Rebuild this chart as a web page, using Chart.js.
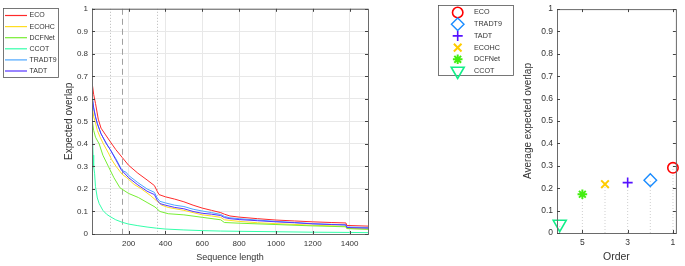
<!DOCTYPE html>
<html>
<head>
<meta charset="utf-8">
<script src="https://cdn.jsdelivr.net/npm/chart.js@4/dist/chart.umd.min.js"></script>
<style>
  html, body { margin: 0; padding: 0; background: #fff; }
  .box { position: absolute; top: 0; }
</style>
</head>
<body>
<div class="box" style="left:0"><canvas id="curveChart" width="380" height="266"></canvas></div>
<div class="box" style="left:430px"><canvas id="rankChart" width="255" height="266"></canvas></div>
<script>
// ---- expected overlap curves (sequence length, overlap) ----
const trackers = ['ECO', 'ECOHC', 'DCFNet', 'CCOT', 'TRADT9', 'TADT'];

const ecoCurve = [[1,1],[2,0.70],[5,0.66],[10,0.62],[20,0.58],[35,0.51],[50,0.47],[75,0.44],[100,0.41],[130,0.375],[165,0.34],[200,0.305],[250,0.27],[300,0.24],[340,0.215],[355,0.19],[365,0.175],[400,0.165],[450,0.155],[500,0.143],[550,0.128],[600,0.115],[650,0.105],[700,0.095],[720,0.088],[750,0.08],[800,0.075],[900,0.068],[1000,0.062],[1100,0.058],[1200,0.054],[1300,0.051],[1380,0.049],[1385,0.038],[1500,0.035]];
const ecohcCurve = [[1,1],[2,0.62],[5,0.56],[10,0.52],[18,0.5],[30,0.46],[45,0.43],[63,0.4],[90,0.36],[108,0.33],[132,0.3],[165,0.265],[190,0.25],[230,0.22],[270,0.2],[320,0.17],[352,0.147],[380,0.128],[415,0.118],[500,0.105],[600,0.085],[650,0.08],[700,0.074],[720,0.063],[800,0.056],[900,0.05],[1000,0.046],[1200,0.039],[1380,0.034],[1385,0.025],[1500,0.022]];
const dcfnetCurve = [[1,1],[2,0.56],[4,0.5],[10,0.46],[20,0.43],[40,0.4],[60,0.35],[90,0.3],[120,0.25],[153,0.205],[200,0.18],[253,0.162],[300,0.14],[343,0.12],[370,0.1],[415,0.09],[500,0.085],[600,0.074],[700,0.063],[720,0.051],[800,0.048],[1000,0.042],[1200,0.036],[1380,0.032],[1385,0.024],[1500,0.021]];
const ccotCurve = [[1,1],[2,0.6],[4,0.45],[7,0.35],[10,0.3],[15,0.27],[20,0.21],[30,0.16],[40,0.135],[60,0.105],[80,0.088],[100,0.077],[130,0.063],[165,0.052],[200,0.044],[250,0.037],[300,0.031],[350,0.026],[400,0.022],[500,0.018],[600,0.015],[700,0.013],[800,0.012],[1000,0.01],[1200,0.008],[1400,0.007],[1500,0.006]];
const tradt9Curve = [[1,1],[2,0.66],[5,0.6],[10,0.56],[20,0.52],[30,0.49],[50,0.445],[80,0.4],[100,0.375],[130,0.335],[160,0.29],[170,0.28],[185,0.275],[200,0.26],[250,0.228],[300,0.2],[340,0.185],[355,0.16],[370,0.145],[400,0.138],[450,0.128],[500,0.122],[550,0.11],[600,0.102],[650,0.095],[700,0.087],[720,0.078],[750,0.072],[800,0.068],[900,0.062],[1000,0.056],[1100,0.051],[1200,0.046],[1300,0.043],[1380,0.041],[1385,0.031],[1500,0.029]];
const tadtCurve = [[1,1],[2,0.65],[5,0.6],[10,0.56],[20,0.52],[30,0.49],[50,0.445],[80,0.4],[100,0.375],[130,0.33],[160,0.285],[200,0.25],[250,0.218],[300,0.19],[340,0.175],[355,0.15],[370,0.135],[400,0.128],[450,0.118],[500,0.112],[550,0.1],[600,0.092],[650,0.088],[700,0.082],[720,0.073],[750,0.068],[800,0.064],[900,0.059],[1000,0.054],[1100,0.05],[1200,0.045],[1300,0.042],[1380,0.04],[1385,0.029],[1500,0.026]];
const curves = [ecoCurve, ecohcCurve, dcfnetCurve, ccotCurve, tradt9Curve, tadtCurve];
const curveColors = ['#ff2a2a', '#ffdd22', '#77ee33', '#33ffaa', '#4da6ff', '#5533ff'];

const lengthTicks = [200, 400, 600, 800, 1000, 1200, 1400];
const overlapTicks = [0, 0.1, 0.2, 0.3, 0.4, 0.5, 0.6, 0.7, 0.8, 0.9, 1];
const rangeBounds = [100, 356];   // dotted lines
const peakLength = 162;           // dashed line

// ---- average expected overlap ranking ----
const rankNames = ['ECO', 'TRADT9', 'TADT', 'ECOHC', 'DCFNet', 'CCOT'];
const rankOrder = [1, 2, 3, 4, 5, 6];
const rankEao = [0.291, 0.236, 0.225, 0.218, 0.173, 0.04];
const orderTicks = [1, 3, 5];

const markerStyles = [
  { color: '#ff0000', style: 'circle', r: 5.2, w: 1.6, rot: 0, open: true },
  { color: '#1a8cff', style: 'rectRot', r: 6.3, w: 1.4, rot: 0, open: true },
  { color: '#5511ff', style: 'cross', r: 5, w: 1.6, rot: 0, open: false },
  { color: '#ffcc00', style: 'crossRot', r: 5.4, w: 2, rot: 0, open: false },
  { color: '#44ee11', style: 'star', r: 4.8, w: 2, rot: 0, open: false },
  { color: '#11ee88', style: 'triangle', r: 7.5, w: 1.6, rot: 180, open: true }
];

const FONT = "'Liberation Sans', Arial, Helvetica, sans-serif";
const TEXT = '#333';
const NONE = 'rgba(0,0,0,0)';

// box around the plot with small inward ticks, like a matlab axes
const axesBox = {
  id: 'axesBox',
  afterDatasetsDraw(chart) {
    const { ctx, chartArea: a, scales } = chart;
    ctx.save();
    ctx.strokeStyle = '#6a6a6a';
    ctx.lineWidth = 1;
    ctx.strokeRect(a.left + 0.5, a.top + 0.5, a.right - a.left, a.bottom - a.top);
    ctx.strokeStyle = '#444';
    ctx.beginPath();
    scales.x.ticks.forEach(t => {
      const px = Math.round(scales.x.getPixelForValue(t.value)) + 0.5;
      ctx.moveTo(px, a.bottom); ctx.lineTo(px, a.bottom - 3);
      ctx.moveTo(px, a.top); ctx.lineTo(px, a.top + 3);
    });
    scales.y.ticks.forEach(t => {
      const py = Math.round(scales.y.getPixelForValue(t.value)) + 0.5;
      ctx.moveTo(a.left, py); ctx.lineTo(a.left + 3, py);
      ctx.moveTo(a.right, py); ctx.lineTo(a.right - 3, py);
    });
    ctx.stroke();
    ctx.restore();
  }
};

// dotted / dashed reference lines on the length axis
const refLines = {
  id: 'refLines',
  beforeDatasetsDraw(chart) {
    const { ctx, chartArea: a, scales: { x } } = chart;
    ctx.save();
    ctx.lineWidth = 1;
    ctx.strokeStyle = '#b8b8b8';
    ctx.setLineDash([1, 2]);
    rangeBounds.forEach(v => {
      const px = Math.round(x.getPixelForValue(v)) + 0.5;
      ctx.beginPath(); ctx.moveTo(px, a.top); ctx.lineTo(px, a.bottom); ctx.stroke();
    });
    ctx.strokeStyle = '#a0a0a0';
    ctx.setLineDash([6, 4]);
    const px = Math.round(x.getPixelForValue(peakLength)) + 0.5;
    ctx.beginPath(); ctx.moveTo(px, a.top); ctx.lineTo(px, a.bottom); ctx.stroke();
    ctx.restore();
  }
};

const lineLegend = {
  id: 'lineLegend',
  afterDraw(chart) {
    const ctx = chart.ctx;
    ctx.save();
    ctx.strokeStyle = '#555';
    ctx.lineWidth = 0.8;
    ctx.strokeRect(3.5, 8.5, 55, 69);
    ctx.font = '7px ' + FONT;
    ctx.textBaseline = 'middle';
    ctx.fillStyle = TEXT;
    trackers.forEach((name, i) => {
      const y = 15.5 + i * 11.1;
      ctx.strokeStyle = curveColors[i];
      ctx.lineWidth = 1.2;
      ctx.beginPath(); ctx.moveTo(5, y); ctx.lineTo(27, y); ctx.stroke();
      ctx.fillText(name, 29.5, y);
    });
    ctx.restore();
  }
};

const markerLegend = {
  id: 'markerLegend',
  afterDraw(chart) {
    const ctx = chart.ctx;
    ctx.save();
    ctx.strokeStyle = '#555';
    ctx.lineWidth = 0.8;
    ctx.strokeRect(8.5, 5.5, 75, 70);
    ctx.font = '7.2px ' + FONT;
    ctx.textBaseline = 'middle';
    rankNames.forEach((name, i) => {
      const m = markerStyles[i];
      const y = 12.5 + i * 11.7;
      ctx.strokeStyle = m.color;
      ctx.fillStyle = m.open ? NONE : m.color;
      ctx.lineWidth = m.w;
      Chart.helpers.drawPoint(ctx, { pointStyle: m.style, radius: m.r, rotation: m.rot, borderWidth: m.w }, 27.7, y);
      ctx.fillStyle = TEXT;
      ctx.fillText(name, 44, y);
    });
    ctx.restore();
  }
};

new Chart(document.getElementById('curveChart'), {
  type: 'line',
  data: {
    datasets: trackers.map((name, i) => ({
      label: name,
      data: curves[i].map(p => ({ x: p[0], y: p[1] })),
      borderColor: curveColors[i],
      borderWidth: 1,
      pointRadius: 0,
      tension: 0,
      order: trackers.length - i
    }))
  },
  options: {
    responsive: false,
    animation: false,
    events: [],
    layout: { padding: { left: 60, right: 12, top: 7, bottom: 0 } },
    plugins: { legend: { display: false }, tooltip: { enabled: false } },
    scales: {
      x: {
        type: 'linear', min: 1, max: 1500,
        afterBuildTicks: s => { s.ticks = lengthTicks.map(v => ({ value: v })); },
        afterFit: s => { s.height = 32; },
        grid: { color: '#e8e8e8', drawTicks: false },
        border: { display: false },
        ticks: { font: { size: 8, family: FONT }, color: TEXT, padding: 5, maxRotation: 0, callback: v => String(v) },
        title: { display: true, text: 'Sequence length', color: TEXT, font: { size: 9, family: FONT }, padding: { top: 0, bottom: 3 } }
      },
      y: {
        type: 'linear', min: 0, max: 1,
        afterBuildTicks: s => { s.ticks = overlapTicks.map(v => ({ value: v })); },
        afterFit: s => { s.width = 32; },
        grid: { color: '#e8e8e8', drawTicks: false },
        border: { display: false },
        ticks: { font: { size: 8, family: FONT }, color: TEXT, padding: 4, callback: v => String(+v.toFixed(1)) },
        title: { display: true, text: 'Expected overlap', color: TEXT, font: { size: 10, family: FONT }, padding: { top: 3, bottom: 0 } }
      }
    }
  },
  plugins: [refLines, axesBox, lineLegend]
});

new Chart(document.getElementById('rankChart'), {
  type: 'scatter',
  data: {
    datasets: rankNames.map((name, i) => {
      const m = markerStyles[i];
      return {
        label: name,
        data: [{ x: rankOrder[i], y: 0 }, { x: rankOrder[i], y: rankEao[i] }],
        showLine: true,
        clip: false,
        borderColor: '#cfcfcf',
        borderWidth: 1,
        borderDash: [1, 2],
        pointRadius: [0, m.r],
        pointStyle: m.style,
        pointRotation: m.rot,
        pointBorderColor: m.color,
        pointBackgroundColor: m.open ? NONE : m.color,
        pointBorderWidth: m.w
      };
    })
  },
  options: {
    responsive: false,
    animation: false,
    events: [],
    layout: { padding: { left: 91, right: 6, top: 6, bottom: 0 } },
    plugins: { legend: { display: false }, tooltip: { enabled: false } },
    scales: {
      x: {
        type: 'linear', min: 0.87, max: 6.12, reverse: true,
        afterBuildTicks: s => { s.ticks = orderTicks.map(v => ({ value: v })); },
        afterFit: s => { s.height = 33; },
        grid: { display: false, drawTicks: false },
        border: { display: false },
        ticks: { font: { size: 8.5, family: FONT }, color: TEXT, padding: 5, maxRotation: 0, minRotation: 0 },
        title: { display: true, text: 'Order', color: TEXT, font: { size: 10.5, family: FONT }, padding: { top: 0, bottom: 3 } }
      },
      y: {
        type: 'linear', min: 0, max: 1,
        afterBuildTicks: s => { s.ticks = overlapTicks.map(v => ({ value: v })); },
        afterFit: s => { s.width = 36; },
        grid: { display: false, drawTicks: false },
        border: { display: false },
        ticks: { font: { size: 8.5, family: FONT }, color: TEXT, padding: 4, callback: v => String(+v.toFixed(1)) },
        title: { display: true, text: 'Average expected overlap', color: TEXT, font: { size: 10, family: FONT }, padding: { top: 1, bottom: 0 } }
      }
    }
  },
  plugins: [axesBox, markerLegend]
});
</script>
</body>
</html>
